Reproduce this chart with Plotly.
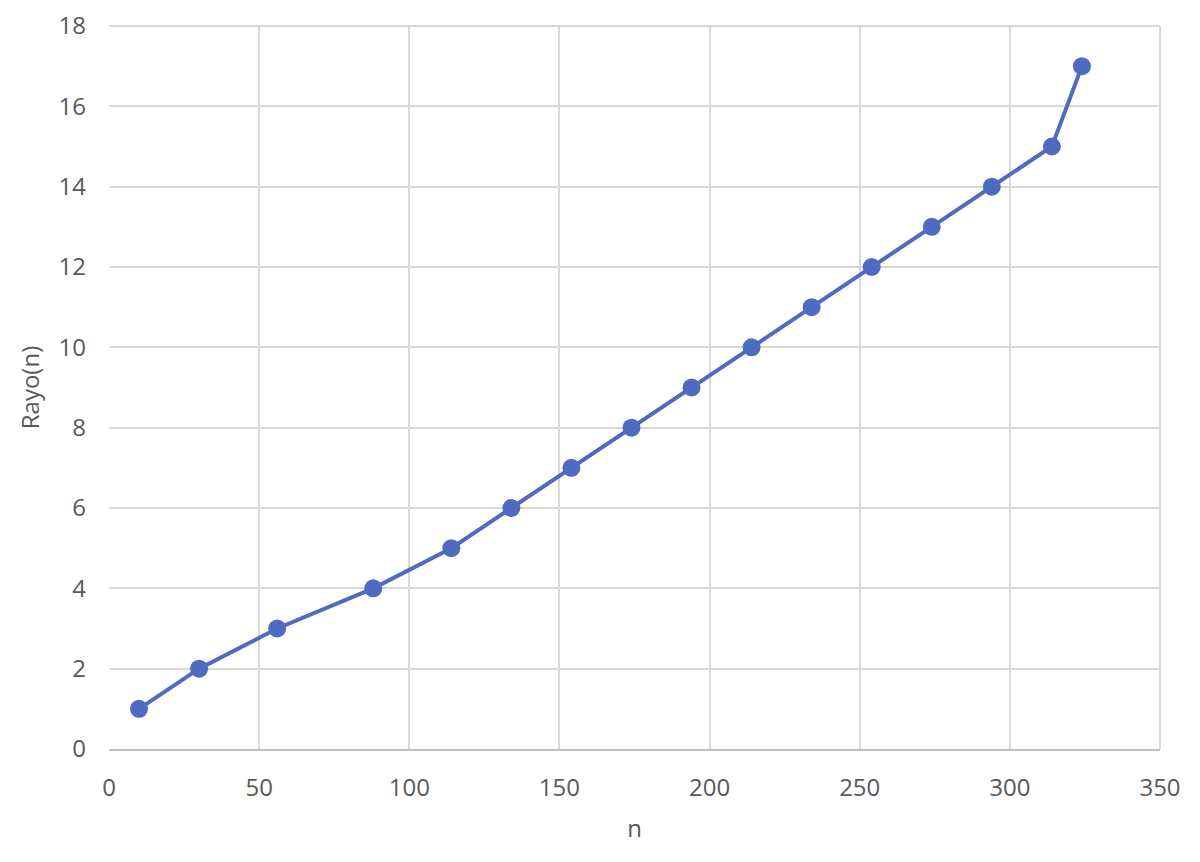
import plotly.graph_objects as go

n_values = [10, 30, 56, 88, 114, 134, 154, 174, 194, 214, 234, 254, 274, 294, 314, 324]
rayo_values = [1, 2, 3, 4, 5, 6, 7, 8, 9, 10, 11, 12, 13, 14, 15, 17]

color = "#4E6BC0"
fig = go.Figure()
fig.add_trace(go.Scatter(
    x=n_values, y=rayo_values, mode="lines+markers",
    line=dict(color=color, width=4),
    marker=dict(color=color, size=18),
    showlegend=False,
))

font = dict(family="Open Sans, Lato, sans-serif", size=24, color="#595959")
fig.update_layout(
    width=1200, height=862,
    margin=dict(l=101, r=48, t=18, b=121),
    paper_bgcolor="white", plot_bgcolor="white",
    font=font,
)
fig.update_xaxes(
    range=[0, 350], dtick=50, showgrid=True, gridcolor="#D9D9D9", gridwidth=2,
    showline=True, linecolor="#BFBFBF", linewidth=2, mirror=False, automargin=False,
    zeroline=False, ticks="", ticklabelstandoff=16, tickfont=dict(size=24),
    title=dict(text="n", font=dict(size=24, color="#595959"), standoff=18),
)
fig.update_yaxes(
    range=[0, 18], dtick=2, showgrid=True, gridcolor="#D9D9D9", gridwidth=2,
    showline=False, zeroline=False, ticks="", ticklabelstandoff=22, tickfont=dict(size=24),
    automargin=False,
    title=dict(text="Rayo(n)", font=dict(size=24, color="#595959"), standoff=12),
)
fig.update_layout(shapes=[
    dict(type="line", xref="paper", yref="paper", x0=1, x1=1, y0=0, y1=1,
         line=dict(color="#D9D9D9", width=2)),
    dict(type="line", xref="paper", yref="paper", x0=0, x1=1, y0=1, y1=1,
         line=dict(color="#D9D9D9", width=2)),
])
fig.write_html("out.html")
